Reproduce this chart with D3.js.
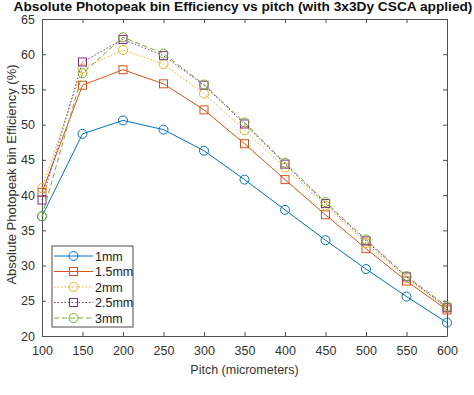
<!DOCTYPE html>
<html>
<head>
<meta charset="utf-8">
<script src="https://cdn.jsdelivr.net/npm/d3@7"></script>
<style>
  body { margin: 0; background: #fff; }
  svg { display: block; font-family: "Liberation Sans", Arial, sans-serif; }
</style>
</head>
<body>
<svg id="chart"></svg>
<script>
// pitch values (micrometers)
var pitch = [100, 150, 200, 250, 300, 350, 400, 450, 500, 550, 600];

// efficiency per detector thickness
var eff1mm   = [37.0, 48.7, 50.6, 49.3, 46.3, 42.2, 37.9, 33.6, 29.5, 25.6, 21.9];
var eff15mm  = [40.4, 55.6, 57.8, 55.8, 52.1, 47.3, 42.2, 37.2, 32.4, 27.8, 23.7];
var eff2mm   = [41.0, 58.0, 60.6, 58.6, 54.4, 49.2, 43.9, 38.5, 33.2, 28.2, 24.0];
var eff25mm  = [39.3, 58.9, 62.1, 59.8, 55.6, 50.1, 44.4, 38.8, 33.5, 28.4, 24.0];
var eff3mm   = [37.0, 57.3, 62.4, 60.1, 55.7, 50.3, 44.6, 39.0, 33.7, 28.5, 24.2];

var seriesNames = ['1mm', '1.5mm', '2mm', '2.5mm', '3mm'];
var seriesColors = ['#0072BD', '#D95319', '#EDB120', '#7E2F8E', '#77AC30'];
var xTicks = [100, 150, 200, 250, 300, 350, 400, 450, 500, 550, 600];
var yTicks = [20, 25, 30, 35, 40, 45, 50, 55, 60, 65];

var width = 474, height = 395;
var margin = {top: 19, right: 27, bottom: 59, left: 42};

var series = [
  {name: seriesNames[0], values: eff1mm,  color: seriesColors[0], dash: null,  marker: 'circle'},
  {name: seriesNames[1], values: eff15mm, color: seriesColors[1], dash: null,  marker: 'square'},
  {name: seriesNames[2], values: eff2mm,  color: seriesColors[2], dash: '1.5,2', marker: 'circle'},
  {name: seriesNames[3], values: eff25mm, color: seriesColors[3], dash: '1.5,2', marker: 'square'},
  {name: seriesNames[4], values: eff3mm,  color: seriesColors[4], dash: '5,3', marker: 'circle'}
];

var svg = d3.select('#chart')
  .attr('width', width)
  .attr('height', height);

var x = d3.scaleLinear()
  .domain([100, 600])
  .range([margin.left, width - margin.right]);

var y = d3.scaleLinear()
  .domain([20, 65])
  .range([height - margin.bottom, margin.top]);

var axisColor = '#4d4d4d';

// axes (MATLAB style: ticks inside, box on)
var axBottom = svg.append('g')
  .attr('transform', 'translate(0,' + y(20) + ')')
  .call(d3.axisBottom(x).tickValues(xTicks).tickSizeInner(-4).tickSizeOuter(0).tickPadding(10));
var axLeft = svg.append('g')
  .attr('transform', 'translate(' + x(100) + ',0)')
  .call(d3.axisLeft(y).tickValues(yTicks).tickSizeInner(-4).tickSizeOuter(0).tickPadding(7));
var axTop = svg.append('g')
  .attr('transform', 'translate(0,' + y(65) + ')')
  .call(d3.axisTop(x).tickValues(xTicks).tickSizeInner(-4).tickSizeOuter(0).tickFormat(''));
var axRight = svg.append('g')
  .attr('transform', 'translate(' + x(600) + ',0)')
  .call(d3.axisRight(y).tickValues(yTicks).tickSizeInner(-4).tickSizeOuter(0).tickFormat(''));

[axBottom, axLeft, axTop, axRight].forEach(function(g) {
  g.select('.domain').attr('stroke', axisColor);
  g.selectAll('.tick line').attr('stroke', axisColor);
  g.selectAll('.tick text')
    .attr('fill', '#333')
    .style('font-size', '12.5px')
    .style('font-family', '"Liberation Sans", Arial, sans-serif');
});

var line = d3.line()
  .x(function(d, i) { return x(pitch[i]); })
  .y(function(d) { return y(d); });

function drawMarker(g, type, cx, cy, color) {
  if (type === 'circle') {
    g.append('circle')
      .attr('cx', cx).attr('cy', cy).attr('r', 4.5)
      .style('fill', 'none').style('stroke', color).style('stroke-width', 1);
  } else {
    g.append('rect')
      .attr('x', cx - 4).attr('y', cy - 4)
      .attr('width', 8).attr('height', 8)
      .style('fill', 'none').style('stroke', color).style('stroke-width', 1);
  }
}

var plot = svg.append('g');
series.forEach(function(s) {
  var g = plot.append('g');
  g.append('path')
    .datum(s.values)
    .attr('d', line)
    .style('fill', 'none')
    .style('stroke', s.color)
    .style('stroke-width', 1)
    .style('stroke-dasharray', s.dash);
  s.values.forEach(function(v, i) {
    drawMarker(g, s.marker, x(pitch[i]), y(v), s.color);
  });
});

// legend
var legend = svg.append('g').attr('transform', 'translate(52,246)');
legend.append('rect')
  .attr('width', 81).attr('height', 81)
  .style('fill', '#fff').style('stroke', axisColor).style('stroke-width', 1);
series.forEach(function(s, i) {
  var ly = 10 + i * 15.5;
  var row = legend.append('g');
  row.append('line')
    .attr('x1', 2).attr('x2', 41).attr('y1', ly).attr('y2', ly)
    .style('stroke', s.color).style('stroke-width', 1)
    .style('stroke-dasharray', s.dash);
  drawMarker(row, s.marker, 21.5, ly, s.color);
  row.append('text')
    .attr('x', 43).attr('y', ly + 4.5)
    .style('fill', '#222')
    .style('font-size', '12.5px')
    .text(s.name);
});

// title and labels
svg.append('text')
  .attr('x', 243)
  .attr('y', 11)
  .attr('text-anchor', 'middle')
  .style('font-size', '13.7px')
  .style('font-weight', 'bold')
  .style('fill', '#111')
  .text('Absolute Photopeak bin Efficiency vs pitch (with 3x3Dy CSCA applied)');

svg.append('text')
  .attr('x', (x(100) + x(600)) / 2)
  .attr('y', 374)
  .attr('text-anchor', 'middle')
  .style('font-size', '12.5px')
  .style('fill', '#333')
  .text('Pitch (micrometers)');

svg.append('text')
  .attr('transform', 'translate(16,' + ((y(20) + y(65)) / 2 - 3) + ') rotate(-90)')
  .attr('text-anchor', 'middle')
  .style('font-size', '13px')
  .style('fill', '#333')
  .text('Absolute Photopeak bin Efficiency (%)');
</script>
</body>
</html>
